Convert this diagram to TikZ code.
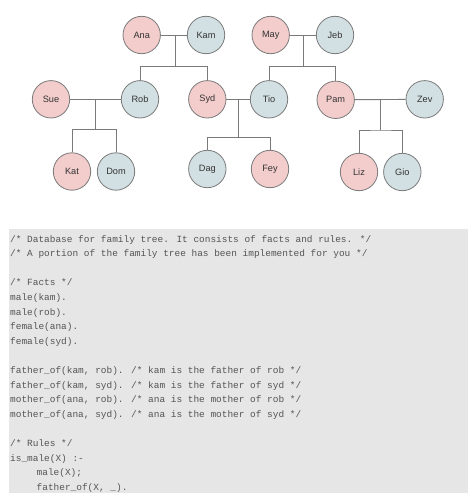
\documentclass[tikz,border=0pt]{standalone}
\usepackage{fontspec}
\setmainfont{Liberation Sans}
\newfontfamily\codefont{Liberation Mono}
\usepackage{tikz}
\definecolor{famred}{HTML}{F3CCCC}
\definecolor{famblue}{HTML}{D3E0E3}
\definecolor{famline}{HTML}{7A7A7A}
\definecolor{codebg}{HTML}{E6E6E6}
\definecolor{codetext}{HTML}{555555}

\begin{document}
\begin{tikzpicture}[x=1pt,y=-1pt,
    person/.style={circle,draw=famline,line width=0.8pt,minimum size=37.4pt,inner sep=0pt,font=\fontsize{9.2}{11}\selectfont,text=black!80},
    she/.style={person,fill=famred},he/.style={person,fill=famblue},
    link/.style={famline,line width=0.9pt},
    code/.style={anchor=base west,inner sep=0pt,text=codetext,font=\codefont\fontsize{9.45}{14.6}\selectfont}]
    \useasboundingbox(0,0)rectangle(474,500);
    % tree
    \node[she](ana)at(141.7,35){Ana};\node[he](kam)at(206,35){Kam};
    \node[she](may)at(270.7,35){May};\node[he](jeb)at(335,35){Jeb};
    \node[she](sue)at(51,99.3){Sue};\node[he](rob)at(140,99.3){Rob};
    \node[she](syd)at(207.3,99.3){Syd};\node[he](tio)at(269,99.3){Tio};
    \node[she](pam)at(335.7,99.8){Pam};\node[he](zev)at(424.7,99.3){Zev};
    \node[she](kat)at(72,171.5){Kat};\node[he](dom)at(116,171.5){Dom};
    \node[he](dag)at(207.3,169){Dag};\node[she](fey)at(270,169){Fey};
    \node[she](liz)at(359,172){Liz};\node[he](gio)at(402.3,172){Gio};
    \coordinate(ak)at(175,35);\coordinate(akb)at(175,66.7);
    \coordinate(mj)at(303.3,35);\coordinate(mjb)at(303.3,66.7);
    \coordinate(sr)at(95.7,99.3);\coordinate(srb)at(95.7,129.3);
    \coordinate(st)at(238.3,99.3);\coordinate(stb)at(238.3,137.3);
    \coordinate(pz)at(380.7,99.3);\coordinate(pzb)at(380.7,130);
    \draw[link](ana)--(kam);\draw[link](ak)--(akb);\draw[link](rob)|-(akb)-|(syd);
    \draw[link](may)--(jeb);\draw[link](mj)--(mjb);\draw[link](tio)|-(mjb)-|(pam);
    \draw[link](sue)--(rob);\draw[link](sr)--(srb);\draw[link](kat)|-(srb)-|(dom);
    \draw[link](syd)--(tio);\draw[link](st)--(stb);\draw[link](dag)|-(stb)-|(fey);
    \draw[link](pam)--(zev);\draw[link](pz)--(pzb);\draw[link](liz)|-(pzb)-|(gio);
    % code listing
    \fill[codebg](8.7,229.3)rectangle(468,493);
    \node[code](c1)at(10,242){/* Database for family tree. It consists of facts and rules. */};
    \node[code](c2)at(10,256.6){/* A portion of the family tree has been implemented for you */};
    \node[code](c4)at(10,285.8){/* Facts */};
    \node[code](c5)at(10,300.4){male(kam).};
    \node[code](c6)at(10,315){male(rob).};
    \node[code](c7)at(10,329.6){female(ana).};
    \node[code](c8)at(10,344.2){female(syd).};
    \node[code](c10)at(10,373.4){father\_of(kam, rob). /* kam is the father of rob */};
    \node[code](c11)at(10,388){father\_of(kam, syd). /* kam is the father of syd */};
    \node[code](c12)at(10,402.6){mother\_of(ana, rob). /* ana is the mother of rob */};
    \node[code](c13)at(10,417.2){mother\_of(ana, syd). /* ana is the mother of syd */};
    \node[code](c15)at(10,446.4){/* Rules */};
    \node[code](c16)at(10,461){is\_male(X) :-};
    \node[code](c17)at(36.5,475.6){male(X);};
    \node[code](c18)at(36.5,490.2){father\_of(X, \_).};
  \end{tikzpicture}
\end{document}
